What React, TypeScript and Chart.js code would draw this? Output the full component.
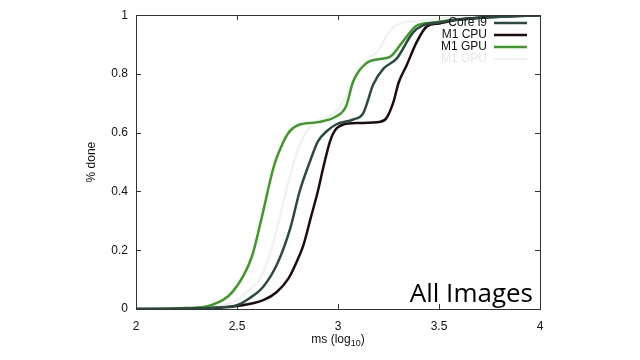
import React, { useEffect, useRef } from "react";
import { Chart, registerables } from "chart.js";

Chart.register(...registerables);

// ---- data ----
const seriesLabels = ["Core i9", "M1 CPU", "M1 GPU", "M1 GPU"];

const coreI9X = [2.0, 2.25, 2.4, 2.5, 2.56, 2.63, 2.7, 2.765, 2.81, 2.86, 2.9, 2.944, 2.99, 3.075, 3.125, 3.175, 3.225, 3.29, 3.37, 3.42, 3.5, 3.6, 3.8, 4.0];
const coreI9Y = [0, 0.001, 0.005, 0.013, 0.036, 0.076, 0.155, 0.278, 0.4, 0.5, 0.57, 0.605, 0.628, 0.645, 0.667, 0.765, 0.818, 0.852, 0.94, 0.965, 0.975, 0.985, 0.995, 1.0];

const m1CpuX = [2.0, 2.25, 2.4, 2.5, 2.63, 2.697, 2.755, 2.795, 2.83, 2.865, 2.9, 2.93, 2.96, 2.985, 3.026, 3.1, 3.21, 3.24, 3.275, 3.3, 3.34, 3.39, 3.44, 3.5, 3.6, 3.8, 4.0];
const m1CpuY = [0, 0.001, 0.004, 0.01, 0.03, 0.058, 0.104, 0.16, 0.22, 0.31, 0.4, 0.49, 0.57, 0.608, 0.628, 0.633, 0.637, 0.65, 0.706, 0.77, 0.83, 0.909, 0.962, 0.972, 0.985, 0.995, 1.0];

const m1GpuX = [2.0, 2.25, 2.375, 2.48, 2.573, 2.622, 2.68, 2.705, 2.755, 2.8, 2.9, 2.99, 3.04, 3.075, 3.14, 3.2, 3.257, 3.32, 3.39, 3.47, 3.6, 3.8, 4.0];
const m1GpuY = [0, 0.003, 0.014, 0.06, 0.177, 0.31, 0.48, 0.53, 0.6, 0.625, 0.636, 0.655, 0.69, 0.774, 0.836, 0.85, 0.858, 0.909, 0.965, 0.975, 0.986, 0.996, 1.0];

const m1Gpu2X = [2.0, 2.25, 2.4, 2.5, 2.55, 2.6, 2.65, 2.7, 2.75, 2.8, 2.85, 2.9, 2.95, 3.0, 3.05, 3.1, 3.15, 3.2, 3.25, 3.3, 3.4, 3.5, 3.8, 4.0];
const m1Gpu2Y = [0, 0.003, 0.01, 0.03, 0.06, 0.09, 0.16, 0.28, 0.42, 0.54, 0.61, 0.64, 0.655, 0.68, 0.74, 0.81, 0.85, 0.88, 0.94, 0.97, 0.98, 0.99, 0.997, 1.0];

const xTicks = [2, 2.5, 3, 3.5, 4];
const yTicks = [0, 0.2, 0.4, 0.6, 0.8, 1];
const xTitleMain = "ms (log";
const xTitleSub = "10";
const xTitleEnd = ")";
const yTitle = "% done";
const overlayText = "All Images";

// ---- styles ----
const seriesColors = ["#2c4a44", "#1d0c0c", "#3c9b26", "#f2f2f2"];
const legendTextColors = ["#111", "#111", "#111", "#e6e6e6"];
const FONT = '"Liberation Sans", Arial, sans-serif';

const xs = [coreI9X, m1CpuX, m1GpuX, m1Gpu2X];
const ys = [coreI9Y, m1CpuY, m1GpuY, m1Gpu2Y];

const fmt = (v: number) => `${+Number(v).toFixed(2)}`;

const framePlugin = {
  id: "frameTicks",
  afterDatasetsDraw(chart: any) {
    const { ctx, chartArea: a, scales } = chart;
    ctx.save();
    ctx.strokeStyle = "#333";
    ctx.lineWidth = 1;
    ctx.strokeRect(Math.round(a.left) + 0.5, Math.round(a.top) + 0.5, Math.round(a.right - a.left), Math.round(a.bottom - a.top));
    const tl = 5;
    ctx.beginPath();
    xTicks.forEach((v) => {
      const px = Math.round(scales.x.getPixelForValue(v)) + 0.5;
      ctx.moveTo(px, a.bottom);
      ctx.lineTo(px, a.bottom - tl);
      ctx.moveTo(px, a.top);
      ctx.lineTo(px, a.top + tl);
    });
    yTicks.forEach((v) => {
      const py = Math.round(scales.y.getPixelForValue(v)) + 0.5;
      ctx.moveTo(a.left, py);
      ctx.lineTo(a.left + tl, py);
      ctx.moveTo(a.right, py);
      ctx.lineTo(a.right - tl, py);
    });
    ctx.stroke();
    ctx.restore();
  },
};

const legendPlugin = {
  id: "gnuLegend",
  afterDatasetsDraw(chart: any) {
    const { ctx } = chart;
    ctx.save();
    ctx.font = `12px ${FONT}`;
    ctx.textAlign = "right";
    ctx.textBaseline = "middle";
    chart.data.datasets.forEach((ds: any, i: number) => {
      const y = 23 + i * 12;
      ctx.fillStyle = legendTextColors[i];
      ctx.fillText(ds.label, 487, y);
      ctx.strokeStyle = ds.borderColor;
      ctx.lineWidth = 2.5;
      ctx.beginPath();
      ctx.moveTo(494, y);
      ctx.lineTo(527, y);
      ctx.stroke();
    });
    ctx.restore();
  },
};

const textPlugin = {
  id: "texts",
  afterDraw(chart: any) {
    const { ctx, chartArea: a } = chart;
    ctx.save();
    ctx.fillStyle = "#111";
    // y title
    ctx.font = `12px ${FONT}`;
    ctx.textAlign = "center";
    ctx.textBaseline = "middle";
    ctx.translate(92, (a.top + a.bottom) / 2);
    ctx.rotate(-Math.PI / 2);
    ctx.fillText(yTitle, 0, 0);
    ctx.setTransform(1, 0, 0, 1, 0, 0);
    // x title with subscript
    ctx.textAlign = "left";
    ctx.textBaseline = "alphabetic";
    ctx.font = `12px ${FONT}`;
    const w1 = ctx.measureText(xTitleMain).width;
    const w3 = ctx.measureText(xTitleEnd).width;
    ctx.font = `9px ${FONT}`;
    const w2 = ctx.measureText(xTitleSub).width;
    const total = w1 + w2 + w3;
    let x = (a.left + a.right) / 2 - total / 2;
    const base = 343;
    ctx.font = `12px ${FONT}`;
    ctx.fillText(xTitleMain, x, base);
    x += w1;
    ctx.font = `9px ${FONT}`;
    ctx.fillText(xTitleSub, x, base + 3);
    x += w2;
    ctx.font = `12px ${FONT}`;
    ctx.fillText(xTitleEnd, x, base);
    // overlay
    ctx.font = `26px "Open Sans", sans-serif`;
    ctx.fillStyle = "#000";
    ctx.textAlign = "right";
    ctx.fillText(overlayText, 533, 302);
    ctx.restore();
  },
};

export default function App() {
  const ref = useRef<HTMLCanvasElement>(null);
  useEffect(() => {
    if (!ref.current) return;
    const chart = new Chart(ref.current, {
      type: "line",
      data: {
        datasets: seriesLabels.map((label, i) => ({
          label,
          data: xs[i].map((x, j) => ({ x, y: ys[i][j] })),
          borderColor: seriesColors[i],
          backgroundColor: seriesColors[i],
          borderWidth: 2.5,
          pointRadius: 0,
          cubicInterpolationMode: "monotone" as const,
          fill: false,
        })),
      },
      options: {
        animation: false,
        responsive: false,
        maintainAspectRatio: false,
        layout: { padding: { top: 13, right: 100, left: 0, bottom: 0 } },
        plugins: { legend: { display: false }, tooltip: { enabled: false } },
        scales: {
          x: {
            type: "linear",
            min: 2,
            max: 4,
            afterBuildTicks: (s: any) => {
              s.ticks = xTicks.map((v) => ({ value: v }));
            },
            afterFit: (s: any) => {
              s.height = 51;
            },
            ticks: { font: { family: FONT, size: 12 }, color: "#111", padding: 10, callback: (v: any) => fmt(v) },
            grid: { display: false, drawTicks: false },
            border: { display: false },
          },
          y: {
            type: "linear",
            min: 0,
            max: 1,
            afterBuildTicks: (s: any) => {
              s.ticks = yTicks.map((v) => ({ value: v }));
            },
            afterFit: (s: any) => {
              s.width = 136;
            },
            ticks: { font: { family: FONT, size: 12 }, color: "#111", padding: 8, callback: (v: any) => fmt(v) },
            grid: { display: false, drawTicks: false },
            border: { display: false },
          },
        },
      },
      plugins: [framePlugin, legendPlugin, textPlugin],
    });
    return () => chart.destroy();
  }, []);
  return (
    <div style={{ position: "fixed", left: 0, top: 0, width: 640, height: 360, background: "#fff" }}>
      <canvas ref={ref} width={640} height={360} style={{ width: 640, height: 360 }} />
    </div>
  );
}
